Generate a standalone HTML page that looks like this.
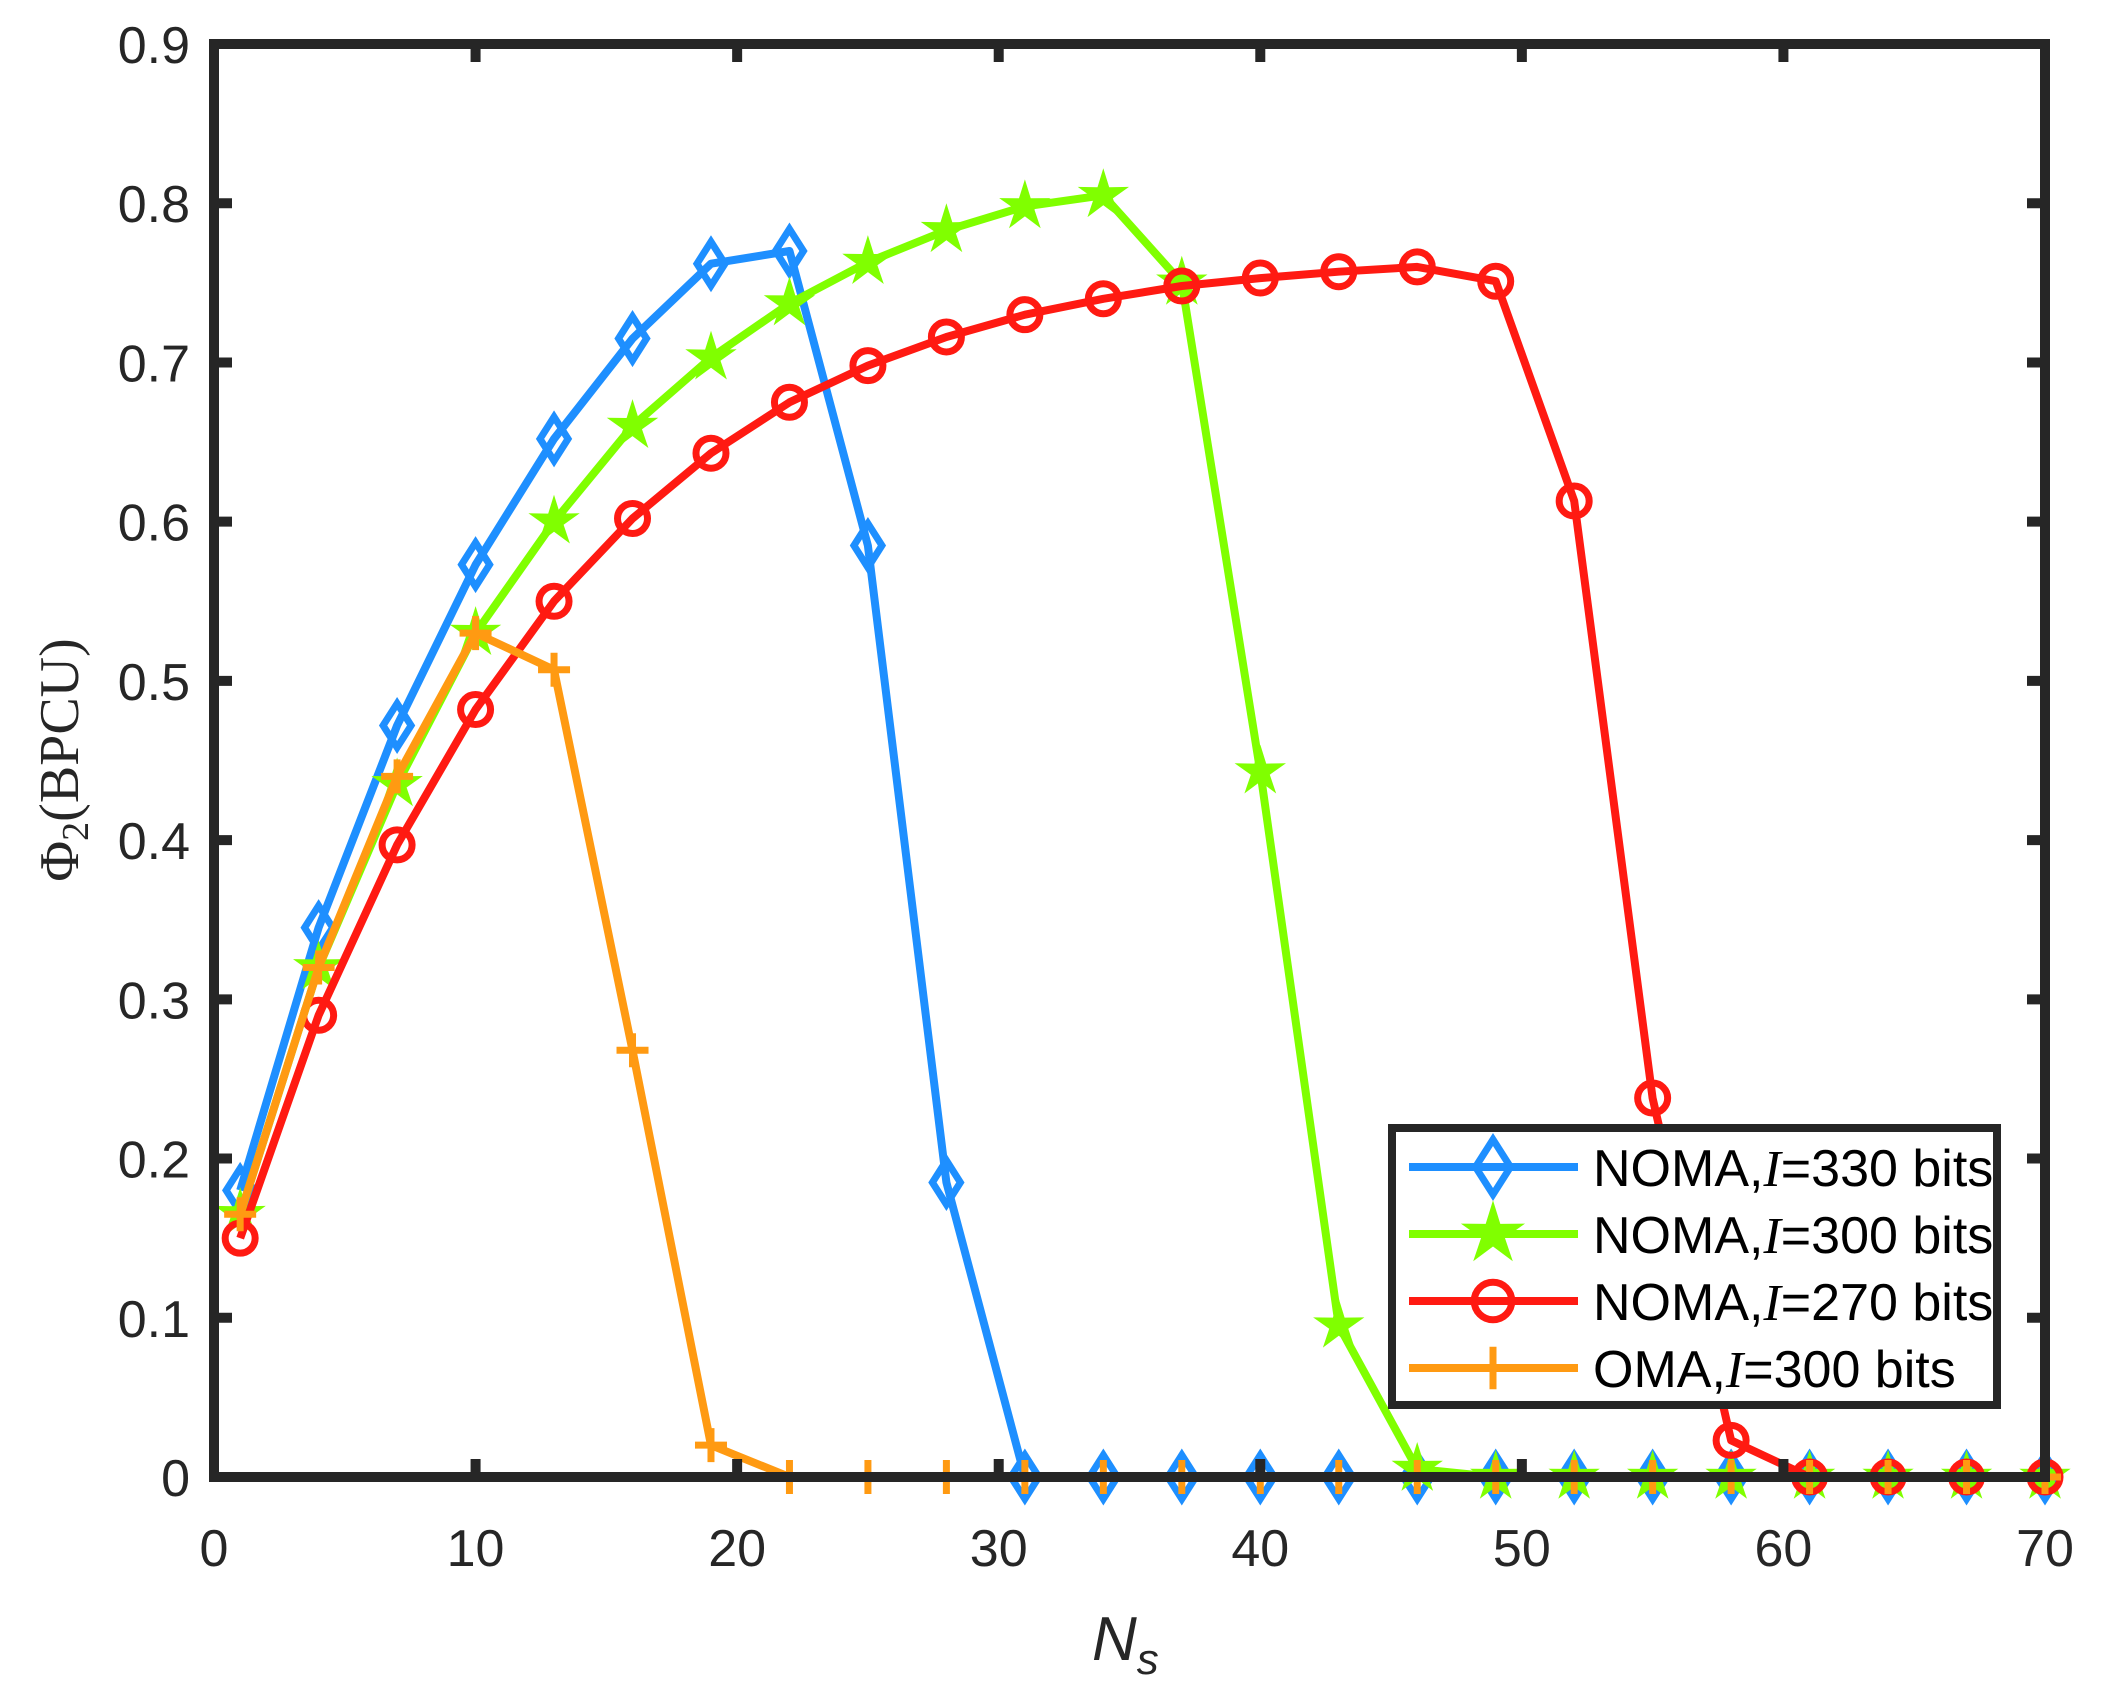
<!DOCTYPE html>
<html><head><meta charset="utf-8"><style>html,body{margin:0;padding:0;background:#fff}svg{display:block}</style></head>
<body>
<svg id="s" width="2108" height="1694" xmlns="http://www.w3.org/2000/svg" font-family="Liberation Sans, sans-serif"></svg>
<script>
const s=document.getElementById('s');
const X0=214,X1=2045,Y0=1477,Y1=44;
const px=x=>X0+(X1-X0)*x/70, py=y=>Y0-(Y0-Y1)*y/0.9;
let h='';
const xs=[];for(let x=1;x<=70;x+=3)xs.push(x);
function pad(a){while(a.length<xs.length)a.push(0);return a;}
const blue=pad([0.18,0.345,0.472,0.573,0.652,0.715,0.762,0.770,0.585,0.185,0]);
const green=pad([0.165,0.32,0.435,0.53,0.60,0.66,0.703,0.737,0.763,0.783,0.798,0.805,0.75,0.443,0.095,0.005,0]);
const red=pad([0.15,0.29,0.397,0.482,0.55,0.602,0.643,0.675,0.698,0.716,0.73,0.74,0.748,0.753,0.757,0.76,0.751,0.613,0.238,0.023,0]);
const orange=pad([0.165,0.32,0.44,0.53,0.507,0.268,0.02,0]);
function marker(t,cx,cy,c,k){k=k||1;
 if(t=='d')return `<path d="M${cx} ${cy-22*k}L${cx+14*k} ${cy}L${cx} ${cy+22*k}L${cx-14*k} ${cy}Z" fill="none" stroke="${c}" stroke-width="7"/>`;
 if(t=='o')return `<circle cx="${cx}" cy="${cy}" r="${15*k}" fill="none" stroke="${c}" stroke-width="7"/>`;
 if(t=='+')return `<path d="M${cx-16*k} ${cy}H${cx+16*k}M${cx} ${cy-17*k}V${cy+17*k}" stroke="${c}" stroke-width="7"/>`;
 if(t=='*'){let p='';for(let i=0;i<10;i++){const r=(i%2?10:27)*k,a=-Math.PI/2+i*Math.PI/5;p+=(i?'L':'M')+(cx+r*Math.cos(a)).toFixed(1)+' '+(cy+r*Math.sin(a)).toFixed(1);}return `<path d="${p}Z" fill="${c}"/>`;}
}
function series(d,c,t){
 let p=xs.map((x,i)=>(i?'L':'M')+px(x).toFixed(1)+' '+py(d[i]).toFixed(1)).join('');
 h+=`<path d="${p}" fill="none" stroke="${c}" stroke-width="8" stroke-linejoin="round"/>`;
 xs.forEach((x,i)=>h+=marker(t,px(x),py(d[i]),c));
}
const C={b:'#1e8fff',g:'#80ff00',r:'#ff1a12',o:'#ff9a12'};
series(blue,C.b,'d');series(green,C.g,'*');series(red,C.r,'o');series(orange,C.o,'+');
h+=`<rect x="${X0}" y="${Y1}" width="${X1-X0}" height="${Y0-Y1}" fill="none" stroke="#262626" stroke-width="10"/>`;
for(let i=0;i<=9;i++){const y=py(i/10);h+=`<path d="M${X0} ${y}h18M${X1} ${y}h-18" stroke="#262626" stroke-width="10"/>`;
 h+=`<text x="190" y="${y+19}" text-anchor="end" font-size="52" fill="#262626">${i==0?'0':(i/10).toFixed(1)}</text>`;}
for(let i=0;i<=70;i+=10){const x=px(i);h+=`<path d="M${x} ${Y0}v-18M${x} ${Y1}v18" stroke="#262626" stroke-width="10"/>`;
 h+=`<text x="${x}" y="1566" text-anchor="middle" font-size="52" fill="#262626">${i}</text>`;}
h+=`<text x="1092" y="1660" font-size="62" font-style="italic" fill="#262626">N<tspan font-size="44" dy="14">s</tspan></text>`;
h+=`<text transform="translate(78,760) rotate(-90)" text-anchor="middle" font-family="Liberation Serif, serif" font-size="56" fill="#262626">Φ<tspan font-size="38" dy="10">2</tspan><tspan dy="-10">(BPCU)</tspan></text>`;
h+=`<rect x="1392" y="1128" width="605" height="277" fill="#fff" stroke="#262626" stroke-width="8"/>`;
const L=[['d',C.b,'NOMA,','=330 bits',1167],['*',C.g,'NOMA,','=300 bits',1234],['o',C.r,'NOMA,','=270 bits',1301],['+',C.o,'OMA,','=300 bits',1368]];
L.forEach(([t,c,a,b,y])=>{h+=`<path d="M1409 ${y}H1578" stroke="${c}" stroke-width="8"/>`+marker(t,1493,y,c,1.25)+
 `<text x="1593" y="${y+19}" font-size="52" fill="#000">${a}<tspan font-family="Liberation Serif, serif" font-style="italic">I</tspan>${b}</text>`;});
s.innerHTML=h;
</script>
</body></html>
